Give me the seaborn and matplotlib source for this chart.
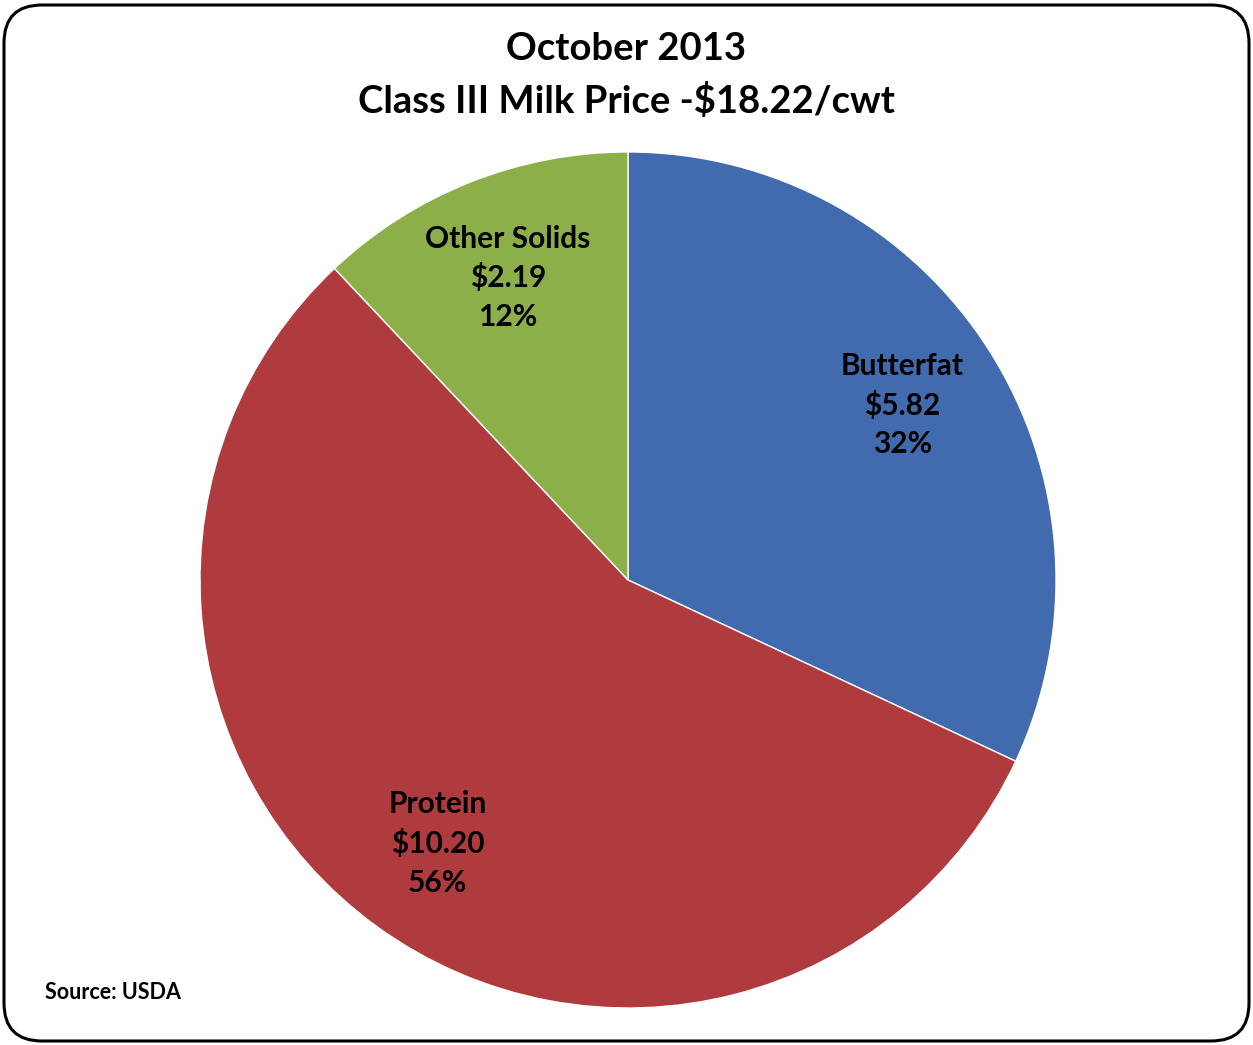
import matplotlib
matplotlib.use("Agg")
from matplotlib import pyplot as plt
from matplotlib.patches import FancyBboxPatch
import seaborn as sb

components = ["Butterfat", "Protein", "Other Solids"]
prices = [5.82, 10.20, 2.19]
percents = ["32%", "56%", "12%"]
colors = ["#416BAE", "#B03B3E", "#8CAF4A"]

sb.set_style("white")
plt.rcParams["font.family"] = ["Lato", "DejaVu Sans"]
plt.rcParams["text.color"] = "black"

fig = plt.figure(figsize=(12.53, 10.45), dpi=100)

# rounded frame around the whole chart
frame = FancyBboxPatch((4, 4), 1245, 1036, boxstyle="round,pad=0,rounding_size=38",
                       transform=None, facecolor="none", edgecolor="black", linewidth=2.2)
fig.patches.append(frame)

fig.text(0.5, 0.953, "October 2013", ha="center", va="center", fontsize=27.5, fontweight="bold")
fig.text(0.5, 0.903, "Class III Milk Price -$18.22/cwt", ha="center", va="center",
         fontsize=27.5, fontweight="bold")
fig.text(0.036, 0.05, "Source: USDA", ha="left", va="center", fontsize=15.5, fontweight="bold")

ax = fig.add_axes([0.5012 - 0.3416, 0.445 - 0.4096, 0.6832, 0.8192])
labels = [f"{c}\n${p:.2f}\n{pc}" for c, p, pc in zip(components, prices, percents)]
ax.pie(prices, labels=labels, colors=colors, startangle=90, counterclock=False,
       labeldistance=0.76, radius=1,
       wedgeprops={"edgecolor": "white", "linewidth": 1},
       textprops={"ha": "center", "va": "center", "fontsize": 21.5, "fontweight": "bold",
                  "linespacing": 1.45})
ax.set_xlim(-1, 1)
ax.set_ylim(-1, 1)
ax.set_aspect("equal")
ax.axis("off")

fig.savefig("out.png", dpi=100)
